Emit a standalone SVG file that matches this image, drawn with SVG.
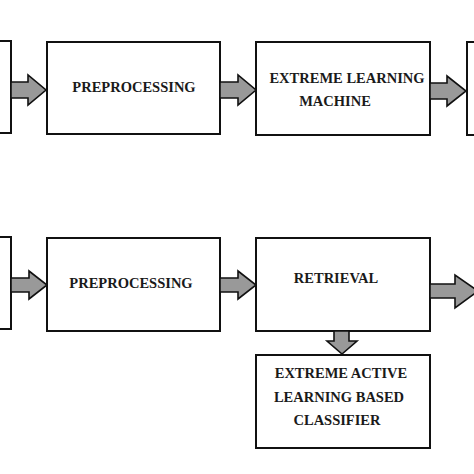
<svg xmlns="http://www.w3.org/2000/svg" width="474" height="474" viewBox="0 0 474 474">
<style>
.box{fill:#fff;stroke:#111;stroke-width:2}
.arr{fill:#999;stroke:#111;stroke-width:1.6;stroke-linejoin:miter}
text{font-family:"Liberation Serif","Times New Roman",serif;font-weight:bold;font-size:14.5px;fill:#1a1a1a}
</style>
<rect width="474" height="474" fill="#fff"/>
<g id="n-left-top"><rect class="box" x="-10" y="41" width="21" height="92"/></g>
<g id="n-pre-top"><rect class="box" x="47" y="42" width="173" height="92"/><text x="134" y="92" text-anchor="middle">PREPROCESSING</text></g>
<g id="n-elm"><rect class="box" x="256" y="42" width="174" height="93"/><text x="347" y="83" text-anchor="middle">EXTREME LEARNING</text><text x="335" y="106" text-anchor="middle">MACHINE</text></g>
<g id="n-right-top"><rect class="box" x="467" y="42" width="20" height="93"/></g>
<g id="n-left-bot"><rect class="box" x="-10" y="237" width="21" height="92"/></g>
<g id="n-pre-bot"><rect class="box" x="47" y="238" width="173" height="93"/><text x="131" y="288" text-anchor="middle">PREPROCESSING</text></g>
<g id="n-ret"><rect class="box" x="256" y="238" width="174" height="93"/><text x="336" y="283" text-anchor="middle">RETRIEVAL</text></g>
<g id="n-eal"><rect class="box" x="256" y="355" width="174" height="93"/><text x="341" y="378" text-anchor="middle">EXTREME ACTIVE</text><text x="339" y="402" text-anchor="middle">LEARNING BASED</text><text x="337" y="425" text-anchor="middle">CLASSIFIER</text></g>
<g id="connectors">
<path class="arr" d="M11,82 H28 V75 L46,90 L28,105 V98 H11 Z"/>
<path class="arr" d="M11,278 H29 V271 L47,285 L29,299 V292 H11 Z"/>
<path class="arr" d="M220,82 H238 V75 L256,90 L238,105 V98 H220 Z"/>
<path class="arr" d="M220,278 H238 V271 L256,285 L238,299 V292 H220 Z"/>
<path class="arr" d="M430,83 H447 V76 L466,91 L447,106 V99 H430 Z"/>
<path class="arr" d="M430,284 H455 V275 L478,291 L455,308 V298 H430 Z"/>
<path class="arr" d="M334,331 V341 H327 L342,354 L357,341 H349 V331 Z"/>
</g>
</svg>
